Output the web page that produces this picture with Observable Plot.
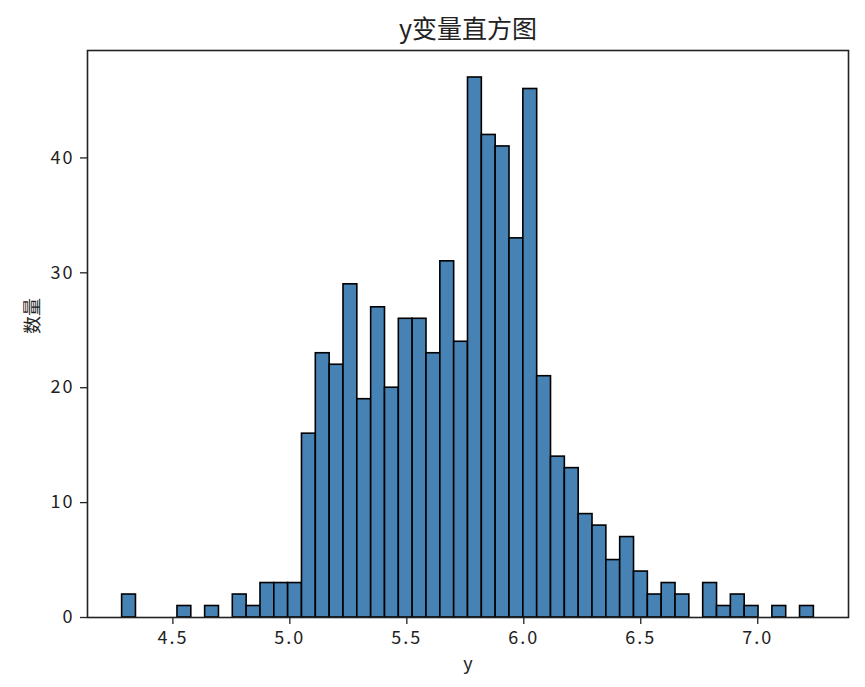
<!DOCTYPE html>
<html>
<head>
<meta charset="utf-8">
<script src="https://cdn.jsdelivr.net/npm/d3@7"></script>
<script src="https://cdn.jsdelivr.net/npm/@observablehq/plot@0.6"></script>
<style>
  html, body { margin: 0; padding: 0; background: #fff; }
  #chart svg { display: block; }
  #chart g[aria-label="x-axis tick label"] text,
  #chart g[aria-label="y-axis tick label"] text { letter-spacing: 2px; }
</style>
</head>
<body>
<div id="chart"></div>
<script>
// Histogram counts for 50 equal-width bins
const counts = [2, 0, 0, 0, 1, 0, 1, 0, 2, 1,
                3, 3, 3, 16, 23, 22, 29, 19, 27, 20,
                26, 26, 23, 31, 24, 47, 42, 41, 33, 46,
                21, 14, 13, 9, 8, 5, 7, 4, 2, 3,
                2, 0, 3, 1, 2, 1, 0, 1, 0, 1];
const binStart = 4.283;
const binEnd = 7.240;
const xDomain = [4.135, 7.388];
const yDomain = [0, 49.35];
const xTicks = [4.5, 5.0, 5.5, 6.0, 6.5, 7.0];
const yTicks = [0, 10, 20, 30, 40];
const titleText = "y变量直方图";
const xLabel = "y";
const yLabel = "数量";

const binWidth = (binEnd - binStart) / counts.length;
const bins = counts.map((c, i) => ({
  x1: binStart + i * binWidth,
  x2: binStart + (i + 1) * binWidth,
  count: c
})).filter(d => d.count > 0);

const font = "'Noto Sans CJK SC', 'Noto Sans', sans-serif";
const ink = "#222";

const chart = Plot.plot({
  width: 865,
  height: 687,
  marginLeft: 87,
  marginRight: 17,
  marginTop: 50,
  marginBottom: 70,
  style: { fontFamily: font, fontSize: "18px", color: ink, background: "#fff", overflow: "visible" },
  x: { domain: xDomain },
  y: { domain: yDomain },
  marks: [
    Plot.rect(bins, { x1: "x1", x2: "x2", y1: 0, y2: "count", fill: "#4682b4", stroke: "#000", strokeWidth: 1.6 }),
    Plot.frame({ stroke: ink, strokeWidth: 1.6 }),
    Plot.axisX({ ticks: xTicks, tickFormat: d3.format(".1f"), tickSize: 7, tickPadding: 7, label: null, fontSize: 18, stroke: ink, strokeWidth: 1.3, fill: ink }),
    Plot.axisY({ ticks: yTicks, tickFormat: d3.format("d"), tickSize: 7, tickPadding: 6, label: null, fontSize: 18, stroke: ink, strokeWidth: 1.3, fill: ink }),
    Plot.text([titleText], { frameAnchor: "top", lineAnchor: "middle", dy: -21, fontSize: 25, fill: ink, text: d => d }),
    Plot.text([xLabel], { frameAnchor: "bottom", lineAnchor: "middle", dy: 47, fontSize: 18, fill: ink, text: d => d }),
    Plot.text([yLabel], { frameAnchor: "left", dx: -54, rotate: -90, fontSize: 18, fill: ink, text: d => d })
  ]
});
document.getElementById("chart").appendChild(chart);
</script>
</body>
</html>
